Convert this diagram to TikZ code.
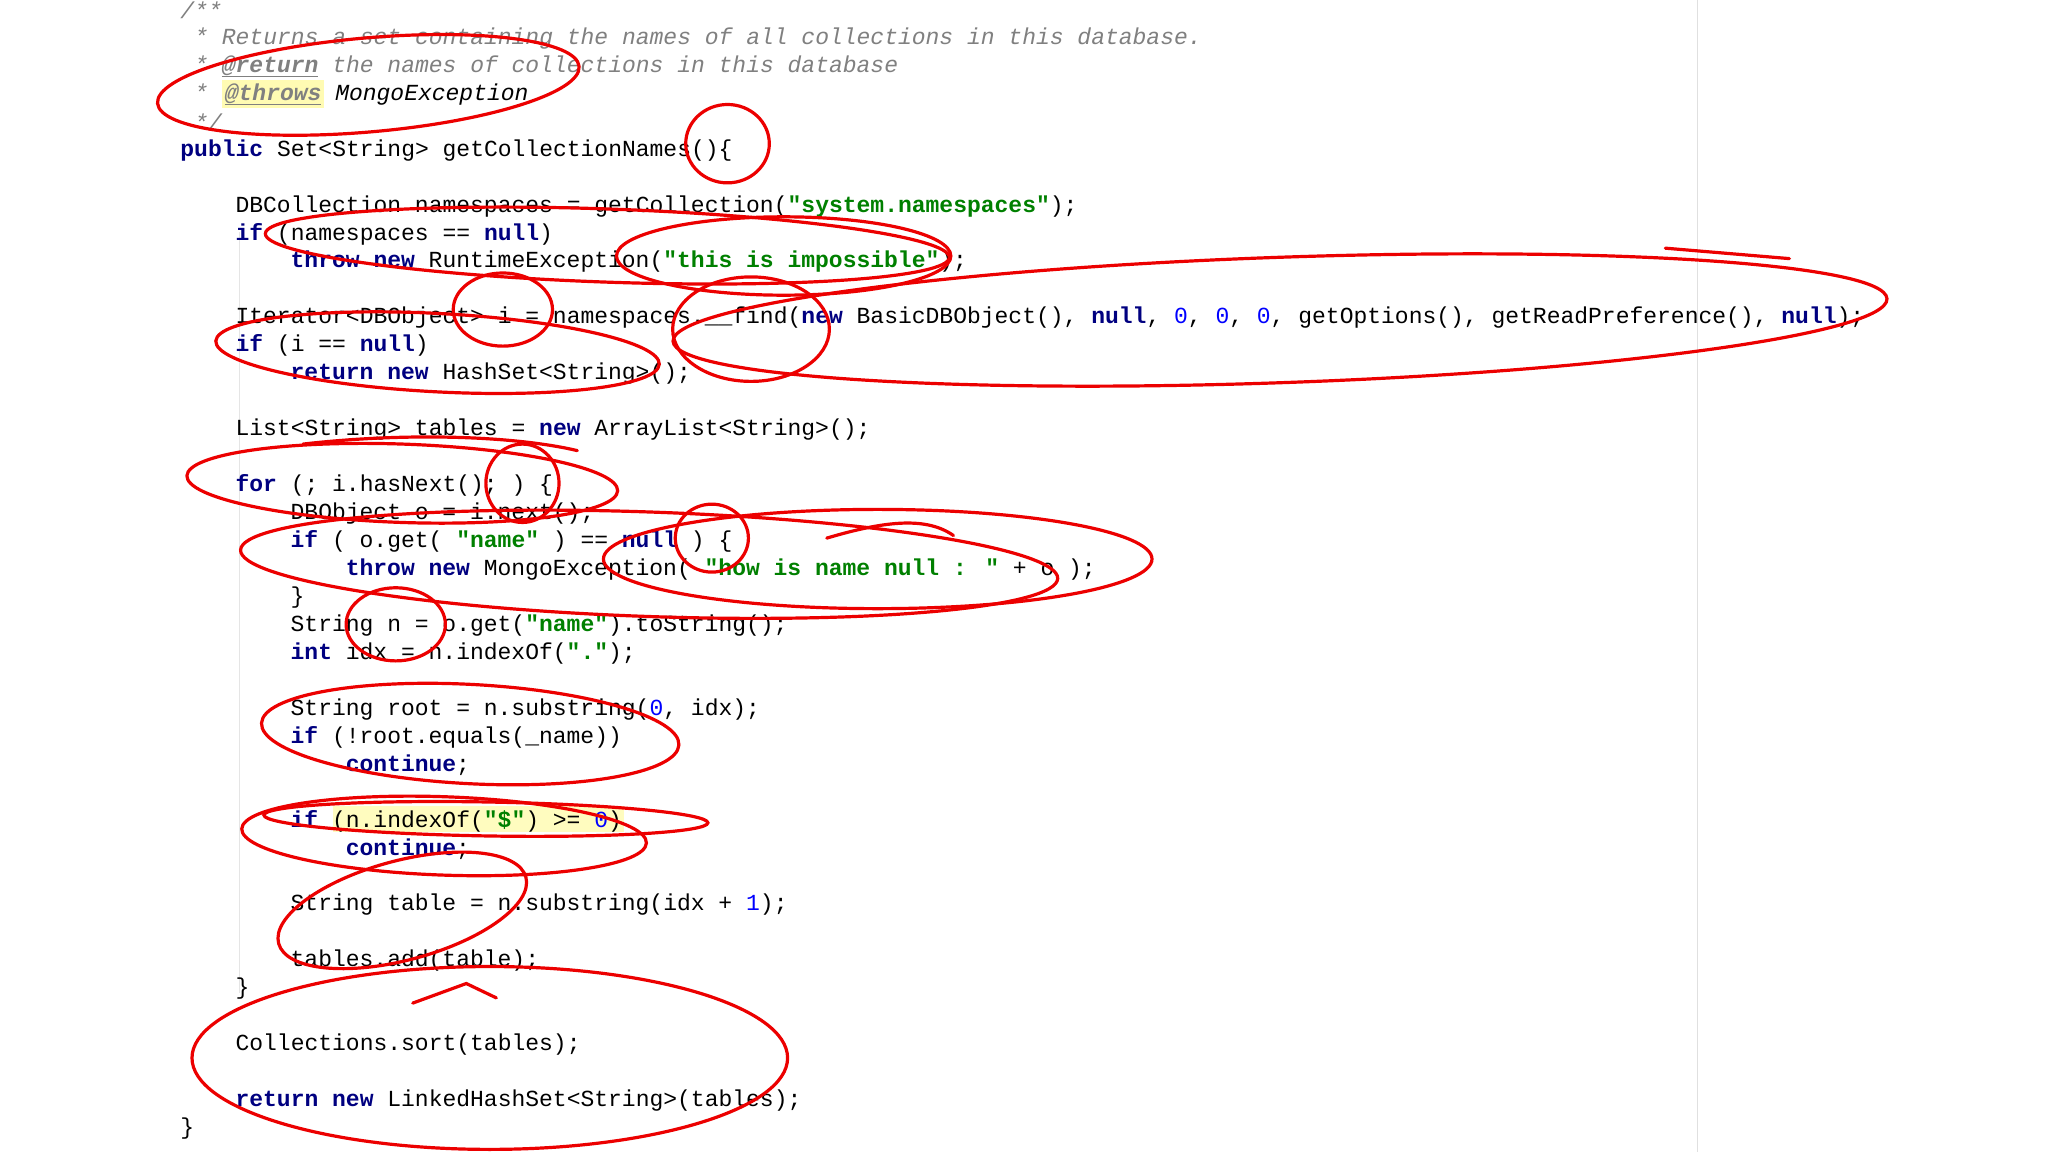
\documentclass[tikz,border=0pt]{standalone}
\usepackage{fontspec}
\newfontfamily\codefont{Liberation Mono}
\definecolor{kwc}{RGB}{0,0,128}
\definecolor{stc}{RGB}{0,128,0}
\definecolor{nmc}{RGB}{0,0,255}
\definecolor{cmc}{RGB}{128,128,128}
\definecolor{ink}{RGB}{236,0,0}
\newcommand\kw[1]{\textbf{\color{kwc}#1}}
\newcommand\st[1]{\textbf{\color{stc}#1}}
\newcommand\nm[1]{{\color{nmc}#1}}
\newcommand\codeline[3]{\node[code] (L#2) at ({138+10.55*#1},{8+21.4*#2}) {#3};}
\tikzset{code/.style={anchor=west,inner sep=0pt,font=\codefont\fontsize{23}{23}\selectfont,text=black},
 pen/.style={draw=ink,line width=3.2pt,line cap=round}}
\begin{document}
\begin{tikzpicture}[x=1.3061pt,y=-1.3061pt]
\useasboundingbox (0,0) rectangle (1568,882);
\fill[white] (0,0) rectangle (1568,882);
\draw[black!12,line width=1pt] (1300,0) -- (1300,882);
\draw[black!10,line width=1pt] (183,178) -- (183,760);
\codeline{0}{0}{\color{cmc}\itshape /**}
\codeline{0}{1}{\color{cmc}\itshape\ * Returns a set containing the names of all collections in this database.}
\codeline{0}{2}{\color{cmc}\itshape\ * \textbf{\underline{@return}} the names of collections in this database}
\codeline{0}{3}{\color{cmc}\itshape\ * \colorbox{yellow!30}{\textbf{\underline{@throws}}}\hspace{-\fboxsep} {\color{black}MongoException}}
\codeline{0}{4}{\color{cmc}\itshape\ */}
\codeline{0}{5}{\kw{public} Set<String> getCollectionNames()\{}
\codeline{4}{7}{DBCollection namespaces = getCollection(\st{"system.namespaces"});}
\codeline{4}{8}{\kw{if} (namespaces == \kw{null})}
\codeline{8}{9}{\kw{throw} \kw{new} RuntimeException(\st{"this is impossible"});}
\codeline{4}{11}{Iterator<DBObject> i = namespaces.\_\_find(\kw{new} BasicDBObject(), \kw{null}, \nm{0}, \nm{0}, \nm{0}, getOptions(), getReadPreference(), \kw{null});}
\codeline{4}{12}{\kw{if} (i == \kw{null})}
\codeline{8}{13}{\kw{return} \kw{new} HashSet<String>();}
\codeline{4}{15}{List<String> tables = \kw{new} ArrayList<String>();}
\codeline{4}{17}{\kw{for} (; i.hasNext(); ) \{}
\codeline{8}{18}{DBObject o = i.next();}
\codeline{8}{19}{\kw{if} ( o.get( \st{"name"} ) == \kw{null} ) \{}
\codeline{12}{20}{\kw{throw} \kw{new} MongoException( \st{"how is name null : "} + o );}
\codeline{8}{21}{\}}
\codeline{8}{22}{String n = o.get(\st{"name"}).toString();}
\codeline{8}{23}{\kw{int} idx = n.indexOf(\st{"."});}
\codeline{8}{25}{String root = n.substring(\nm{0}, idx);}
\codeline{8}{26}{\kw{if} (!root.equals(\_name))}
\codeline{12}{27}{\kw{continue};}
\fill[yellow!25] (255,617) rectangle (478,637);
\codeline{8}{29}{\kw{if} (n.indexOf(\st{"\$"}) >= \nm{0})}
\codeline{12}{30}{\kw{continue};}
\codeline{8}{32}{String table = n.substring(idx + \nm{1});}
\codeline{8}{34}{tables.add(table);}
\codeline{4}{35}{\}}
\codeline{4}{37}{Collections.sort(tables);}
\codeline{4}{39}{\kw{return} \kw{new} LinkedHashSet<String>(tables);}
\codeline{0}{40}{\}}
% red annotations
\draw[pen,rotate around={5:(282,65)}] (282,65) ellipse (162 and 36);
\draw[pen] (557,110) ellipse (32 and 30);
\draw[pen,rotate around={-2:(465,188)}] (465,188) ellipse (262 and 28);
\draw[pen] (600,196) ellipse (128 and 30);
\draw[pen] (385,237) ellipse (38 and 28);
\draw[pen,rotate around={-3:(335,270)}] (335,270) ellipse (170 and 30);
\draw[pen,rotate around={2:(980,245)}] (980,245) ellipse (465 and 48);
\draw[pen] (1275,190) -- (1370,198);
\draw[pen] (575,252) ellipse (60 and 40);
\draw[pen] (232,340) .. controls (320,330) and (400,335) .. (442,345);
\draw[pen,rotate around={-2:(308,370)}] (308,370) ellipse (165 and 30);
\draw[pen] (400,370) ellipse (28 and 30);
\draw[pen,rotate around={-2:(497,432)}] (497,432) ellipse (313 and 40);
\draw[pen] (672,428) ellipse (210 and 38);
\draw[pen] (545,412) ellipse (28 and 26);
\draw[pen] (633,412) .. controls (680,398) and (710,396) .. (730,410);
\draw[pen] (303,478) ellipse (38 and 28);
\draw[pen,rotate around={-3:(360,562)}] (360,562) ellipse (160 and 38);
\draw[pen,rotate around={-2:(340,640)}] (340,640) ellipse (155 and 30);
\draw[pen,rotate around={-1:(372,627)}] (372,627) ellipse (170 and 13);
\draw[pen,rotate around={15:(308,697)}] (308,697) ellipse (98 and 38);
\draw[pen] (375,810) ellipse (228 and 70);
\draw[pen] (316,768) -- (357,753) -- (380,764);
\end{tikzpicture}
\end{document}
